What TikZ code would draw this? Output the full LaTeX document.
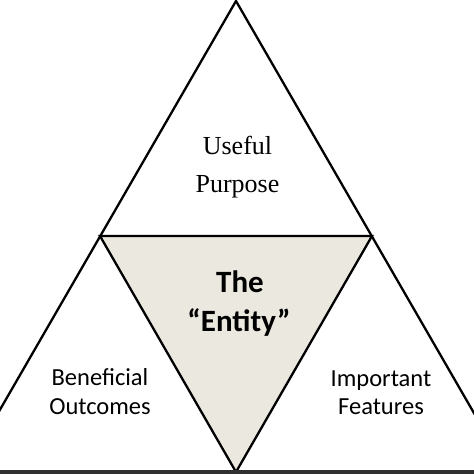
\documentclass[tikz,border=0pt]{standalone}
\usepackage{fontspec}
\setmainfont{Carlito}
\newfontfamily\serifface{Liberation Serif}
\definecolor{entityfill}{HTML}{EAE8DF}
\definecolor{baseline}{HTML}{303030}
\tikzset{
  edge/.style={draw=black, line width=2.3pt, line join=miter},
  lbl/.style={anchor=base, inner sep=0pt, font=\fontsize{24.5}{29}\selectfont},
  toplbl/.style={anchor=base, inner sep=0pt, font=\serifface\fontsize{26}{38}\selectfont},
  midlbl/.style={anchor=base, inner sep=0pt, font=\bfseries\fontsize{31}{39}\selectfont},
}
\begin{document}
\begin{tikzpicture}[x=1pt,y=1pt]
\useasboundingbox (0,0) rectangle (474,474);
\clip (0,0) rectangle (474,474);
\fill[white] (0,0) rectangle (474,474);
\coordinate (apex) at (236,473);
\coordinate (lm) at (100,238);
\coordinate (rm) at (372,238);
\coordinate (bm) at (236,2);
\coordinate (lc) at (-36,2);
\coordinate (rc) at (508,2);
\fill[entityfill] (lm) -- (rm) -- (bm) -- cycle;
\draw[edge] (lc) -- (apex) -- (rc);
\draw[edge] (lm) -- (rm) -- (bm) -- cycle;
\draw[draw=baseline, line width=3.5pt] (lc) -- (rc);
\node[toplbl] (useful) at (237.5,319) {Useful};
\node[toplbl] (purpose) at (237.5,281) {Purpose};
\node[midlbl] (the) at (240,181) {The};
\node[midlbl] (entity) at (239,142) {“Entity”};
\node[lbl] (benef) at (100,88) {Beneficial};
\node[lbl] (outc) at (100,59) {Outcomes};
\node[lbl] (impo) at (381,87) {Important};
\node[lbl] (feat) at (381,59) {Features};
\end{tikzpicture}
\end{document}
